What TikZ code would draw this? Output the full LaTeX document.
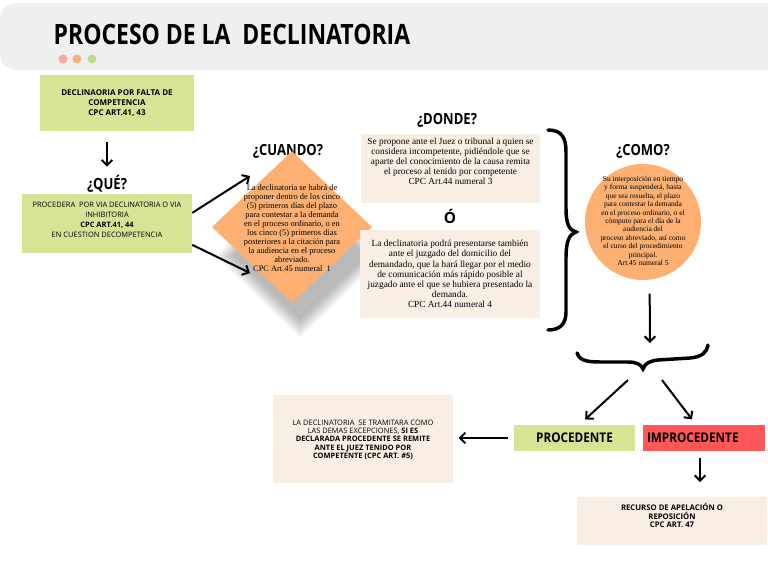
\documentclass[tikz,border=0pt]{standalone}
\usepackage{fontspec}
\setmainfont{Liberation Serif}
\setsansfont{Open Sans}
\usetikzlibrary{positioning, arrows.meta, shapes.geometric}
\definecolor{headgray}{HTML}{EFEFEF}
\definecolor{lime}{HTML}{D9E396}
\definecolor{cream}{HTML}{F9EEE4}
\definecolor{peach}{HTML}{FDB071}
\definecolor{tomato}{HTML}{FF5757}

\begin{document}
\begin{tikzpicture}[x=0.75pt, y=-0.75pt,
    >={Straight Barb[length=4pt,width=8pt]},
    arr/.style={->, line width=1.5pt},
    hdg/.style={font=\sffamily\bfseries\fontsize{11.5}{13}\selectfont},
    sanstxt/.style={font=\sffamily\fontsize{5.6}{7.4}\selectfont, align=center},
    seriftxt/.style={font=\fontsize{7}{7.6}\selectfont, align=center},
    greenbox/.style={rectangle, fill=lime, inner sep=0pt},
    creambox/.style={rectangle, fill=cream, inner sep=0pt},
    brace/.style={line width=2.6pt, line cap=round}]
  \useasboundingbox (0,0) rectangle (768,576);
  % header
  \fill[headgray, rounded corners=12pt] (0,3) rectangle (790,70);
  \node[anchor=base west, font=\sffamily\bfseries\fontsize{21}{24}\selectfont]
    (title) at (49,44) {\scalebox{0.82}[1]{PROCESO DE LA\ \ DECLINATORIA}};
  \foreach \x/\col/\n in {63/F6A89E/1, 77/F9B27A/2, 92/C5D88A/3}{
    \definecolor{dot}{HTML}{\col}
    \node[circle, fill=dot, minimum size=6.8pt, inner sep=0pt] (dot\n) at (\x,59) {};
  }
  % left column
  \node[greenbox, minimum width=115.5pt, minimum height=42pt, sanstxt, font=\sffamily\bfseries\fontsize{6}{7.4}\selectfont]
    (falta) at (117,103) {DECLINAORIA POR FALTA DE\\COMPETENCIA\\CPC ART.41, 43};
  \node[hdg] (quelbl) at (107,184) {\scalebox{0.85}[1]{¿QUÉ?}};
  \node[greenbox, minimum width=127.5pt, minimum height=44.3pt] (que) at (107,223.5) {};
  \node[sanstxt, inner sep=0pt] (quetxt) at (107,220) {PROCEDERA\ \ POR VIA DECLINATORIA O VIA\\INHIBITORIA\\
    \textbf{CPC ART.41, 44}\\EN CUESTION DECOMPETENCIA};
  \draw[arr, shorten <=8pt, shorten >=3pt] (quelbl.north |- falta.south) -- (quelbl.north);
  % cuando
  \node[hdg] (cuandolbl) at (288,151) {\scalebox{0.85}[1]{¿CUANDO?}};
  \foreach \s in {0,3,...,27}{
    \node[diamond, fill=black, opacity=0.03, inner sep=0pt,
          minimum width={100pt+\s pt}, minimum height={96pt+\s pt}] (shadow\s) at (300,256) {};
  }
  \node[diamond, fill=peach, inner sep=0pt, minimum width=120pt, minimum height=114pt]
    (cuando) at (292,227) {};
  \node[seriftxt, font=\fontsize{6.3}{6.75}\selectfont, inner sep=0pt] (cuandotxt) at (292,228)
    {La declinatoria se habrá de\\proponer dentro de los cinco\\(5) primeros días del plazo\\
     para contestar a la demanda\\en el proceso ordinario, o en\\los cinco (5) primeros días\\
     posteriores a la citación para\\la audiencia en el proceso\\abreviado.\\CPC Art.45 numeral\ \ 1};
  \coordinate (up) at (250,176);
  \coordinate (down) at (250,273);
  \draw[arr] ([yshift=8pt]que.east) -- (up);
  \draw[arr] ([yshift=-16pt]que.east) -- (down);
  % donde
  \node[hdg] (dondelbl) at (447,120) {\scalebox{0.85}[1]{¿DONDE?}};
  \node[creambox, minimum width=134pt, minimum height=51.8pt, seriftxt] (donde) at (450.5,168.5)
    {Se propone ante el Juez o tribunal a quien se\\considera incompetente, pidiéndole que se\\
     aparte del conocimiento de la causa remita\\el proceso al tenido por competente\\CPC Art.44 numeral 3\\[3pt]};
  \node[hdg] (o) at (450,216) {Ó};
  \node[creambox, minimum width=135pt, minimum height=66pt, seriftxt] (domicilio) at (450,274)
    {La declinatoria podrá presentarse también\\ante el juzgado del domicilio del\\
     demandado, que la hará llegar por el medio\\de comunicación más rápido posible al\\
     juzgado ante el que se hubiera presentado la\\demanda.\\CPC Art.44 numeral 4};
  % big brace
  \draw[brace] (548,130) .. controls (562,130) and (566,138) .. (566,152) -- (566,208)
    .. controls (566,224) and (569,230) .. (576,232)
    .. controls (569,234) and (566,242) .. (566,258) -- (566,312)
    .. controls (566,324) and (560,330) .. (548,330);
  % como
  \node[hdg] (comolbl) at (643,151) {\scalebox{0.85}[1]{¿COMO?}};
  \node[circle, fill=peach, minimum size=87pt, inner sep=0pt] (como) at (643,222) {};
  \node[seriftxt, font=\fontsize{5.6}{6.3}\selectfont, inner sep=0pt] (comotxt) at (643,221)
    {Su interposición en tiempo\\y forma suspenderá, hasta\\que sea resuelta, el plazo\\
     para contestar la demanda\\en el proceso ordinario, o el\\cómputo para el día de la\\
     audiencia del\\proceso abreviado, así como\\el curso del procedimiento\\principal.\\Art.45 numeral 5};
  % small brace
  \coordinate (bracetop) at (650,343);
  \draw[arr] ([xshift=5pt, yshift=-10pt]como.south) -- (bracetop);
  \draw[brace] (577,353) .. controls (580,362) and (590,362) .. (605,362) -- (628,362)
    .. controls (636,362) and (641,364) .. (643,369)
    .. controls (645,363) and (650,361) .. (658,360) -- (690,358)
    .. controls (702,357) and (707,352) .. (708,345);
  \coordinate (bl) at (628,380);
  \coordinate (br) at (662,380);
  % result
  \node[greenbox, minimum width=90.8pt, minimum height=19.5pt,
        font=\sffamily\bfseries\fontsize{10}{12}\selectfont] (proc) at (574.5,438)
    {\scalebox{0.88}[1]{PROCEDENTE}};
  \node[rectangle, fill=tomato, minimum height=19.5pt, inner ysep=0pt, inner xsep=3pt,
        text width=85.5pt, align=left,
        font=\sffamily\bfseries\fontsize{10}{12}\selectfont] (improc) at (704,438)
    {\scalebox{0.88}[1]{IMPROCEDENTE}};
  \draw[arr] (bl) -- ([xshift=8pt, yshift=4pt]proc.north);
  \draw[arr] (br) -- ([xshift=-9pt, yshift=4pt]improc.north);
  \node[creambox, minimum width=135pt, minimum height=66pt,
        font=\sffamily\fontsize{5.6}{6.3}\selectfont, align=center] (tramite) at (363,439)
    {\\[-1pt]LA DECLINATORIA\ \ SE TRAMITARA COMO\\LAS DEMAS EXCEPCIONES, \textbf{SI ES}\\
     \textbf{DECLARADA PROCEDENTE SE REMITE}\\\textbf{ANTE EL JUEZ TENIDO POR}\\
     \textbf{COMPETENTE (CPC ART. \#5)}};
  \draw[arr, shorten <=4pt, shorten >=4pt] (proc.west) -- (proc.west -| tramite.east);
  \node[creambox, minimum width=142.5pt, minimum height=36pt,
        font=\sffamily\bfseries\fontsize{5.8}{6.4}\selectfont, align=center] (recurso) at (672,521)
    {RECURSO DE APELACIÓN O\\REPOSICIÓN\\CPC ART. 47\\[2pt]};
  \draw[arr, shorten <=5pt, shorten >=11pt] ([xshift=-3pt]improc.south) -- ([xshift=-3pt]improc.south |- recurso.north);
\end{tikzpicture}
\end{document}
